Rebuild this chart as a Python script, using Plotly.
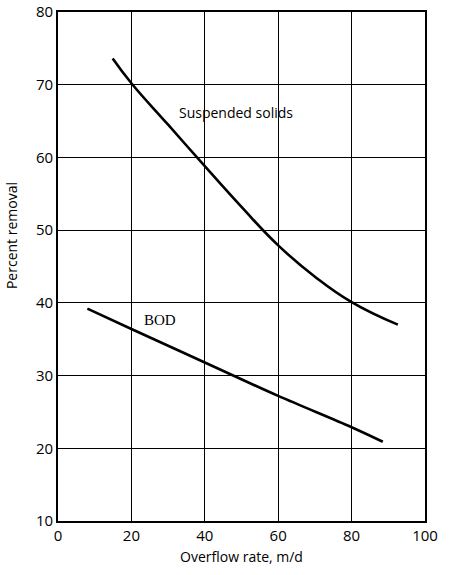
import plotly.graph_objects as go

# Suspended solids curve
ss_rate = [14.9, 20, 30, 40, 50, 60, 70, 80, 92.6]
ss_removal = [73.6, 70.2, 64.5, 58.8, 53.2, 47.9, 43.6, 40.1, 37.0]

# BOD line
bod_rate = [8, 20, 40, 60, 80, 88.5]
bod_removal = [39.2, 36.4, 31.8, 27.2, 22.9, 20.9]

fig = go.Figure()

fig.add_traces(
    go.Scatter(
        x=ss_rate,
        y=ss_removal,
        mode='lines',
        line=dict(color='black', width=2.6, shape='spline', smoothing=1.3),
        name='Suspended solids'
    )
)

fig.add_traces(
    go.Scatter(
        x=bod_rate,
        y=bod_removal,
        mode='lines',
        line=dict(color='black', width=2.6, shape='spline', smoothing=1.0),
        name='BOD'
    )
)

fig.add_annotation(
    x=48.6, y=66.2, text='Suspended solids', showarrow=False,
    font=dict(family='Open Sans', size=14, color='black')
)
fig.add_annotation(
    x=27.7, y=37.6, text='BOD', showarrow=False,
    font=dict(family='Liberation Serif', size=15, color='black')
)
fig.add_annotation(
    x=-0.125, xref='paper', y=0.56, yref='paper', text='Percent removal',
    textangle=-90, showarrow=False, xanchor='center', yanchor='middle',
    font=dict(family='Open Sans', size=14, color='black')
)

fig.update_xaxes(
    range=[0, 100],
    dtick=20,
    automargin=False,
    showgrid=True,
    gridcolor='black',
    gridwidth=1.4,
    showline=True,
    linecolor='black',
    linewidth=1.6,
    mirror=True,
    zeroline=False,
    ticks='',
    tickfont=dict(family='Open Sans', size=15, color='black'),
    title=dict(text='Overflow rate, m/d', standoff=8,
               font=dict(family='Open Sans', size=14, color='black'))
)
fig.update_yaxes(
    range=[10, 80],
    dtick=10,
    automargin=False,
    showgrid=True,
    gridcolor='black',
    gridwidth=1.4,
    showline=True,
    linecolor='black',
    linewidth=1.6,
    mirror=True,
    zeroline=False,
    ticks='',
    tickfont=dict(family='Open Sans', size=15, color='black')
)
fig.update_layout(
    width=449,
    height=575,
    margin=dict(l=58, r=24, t=12, b=54),
    plot_bgcolor='#FFFFFF',
    paper_bgcolor='#FFFFFF',
    showlegend=False
)

# drop the page's default body margin so the figure sits at the top-left corner
fig.write_html('out.html', config={'displayModeBar': False},
               post_script="document.body.style.margin='0';")
